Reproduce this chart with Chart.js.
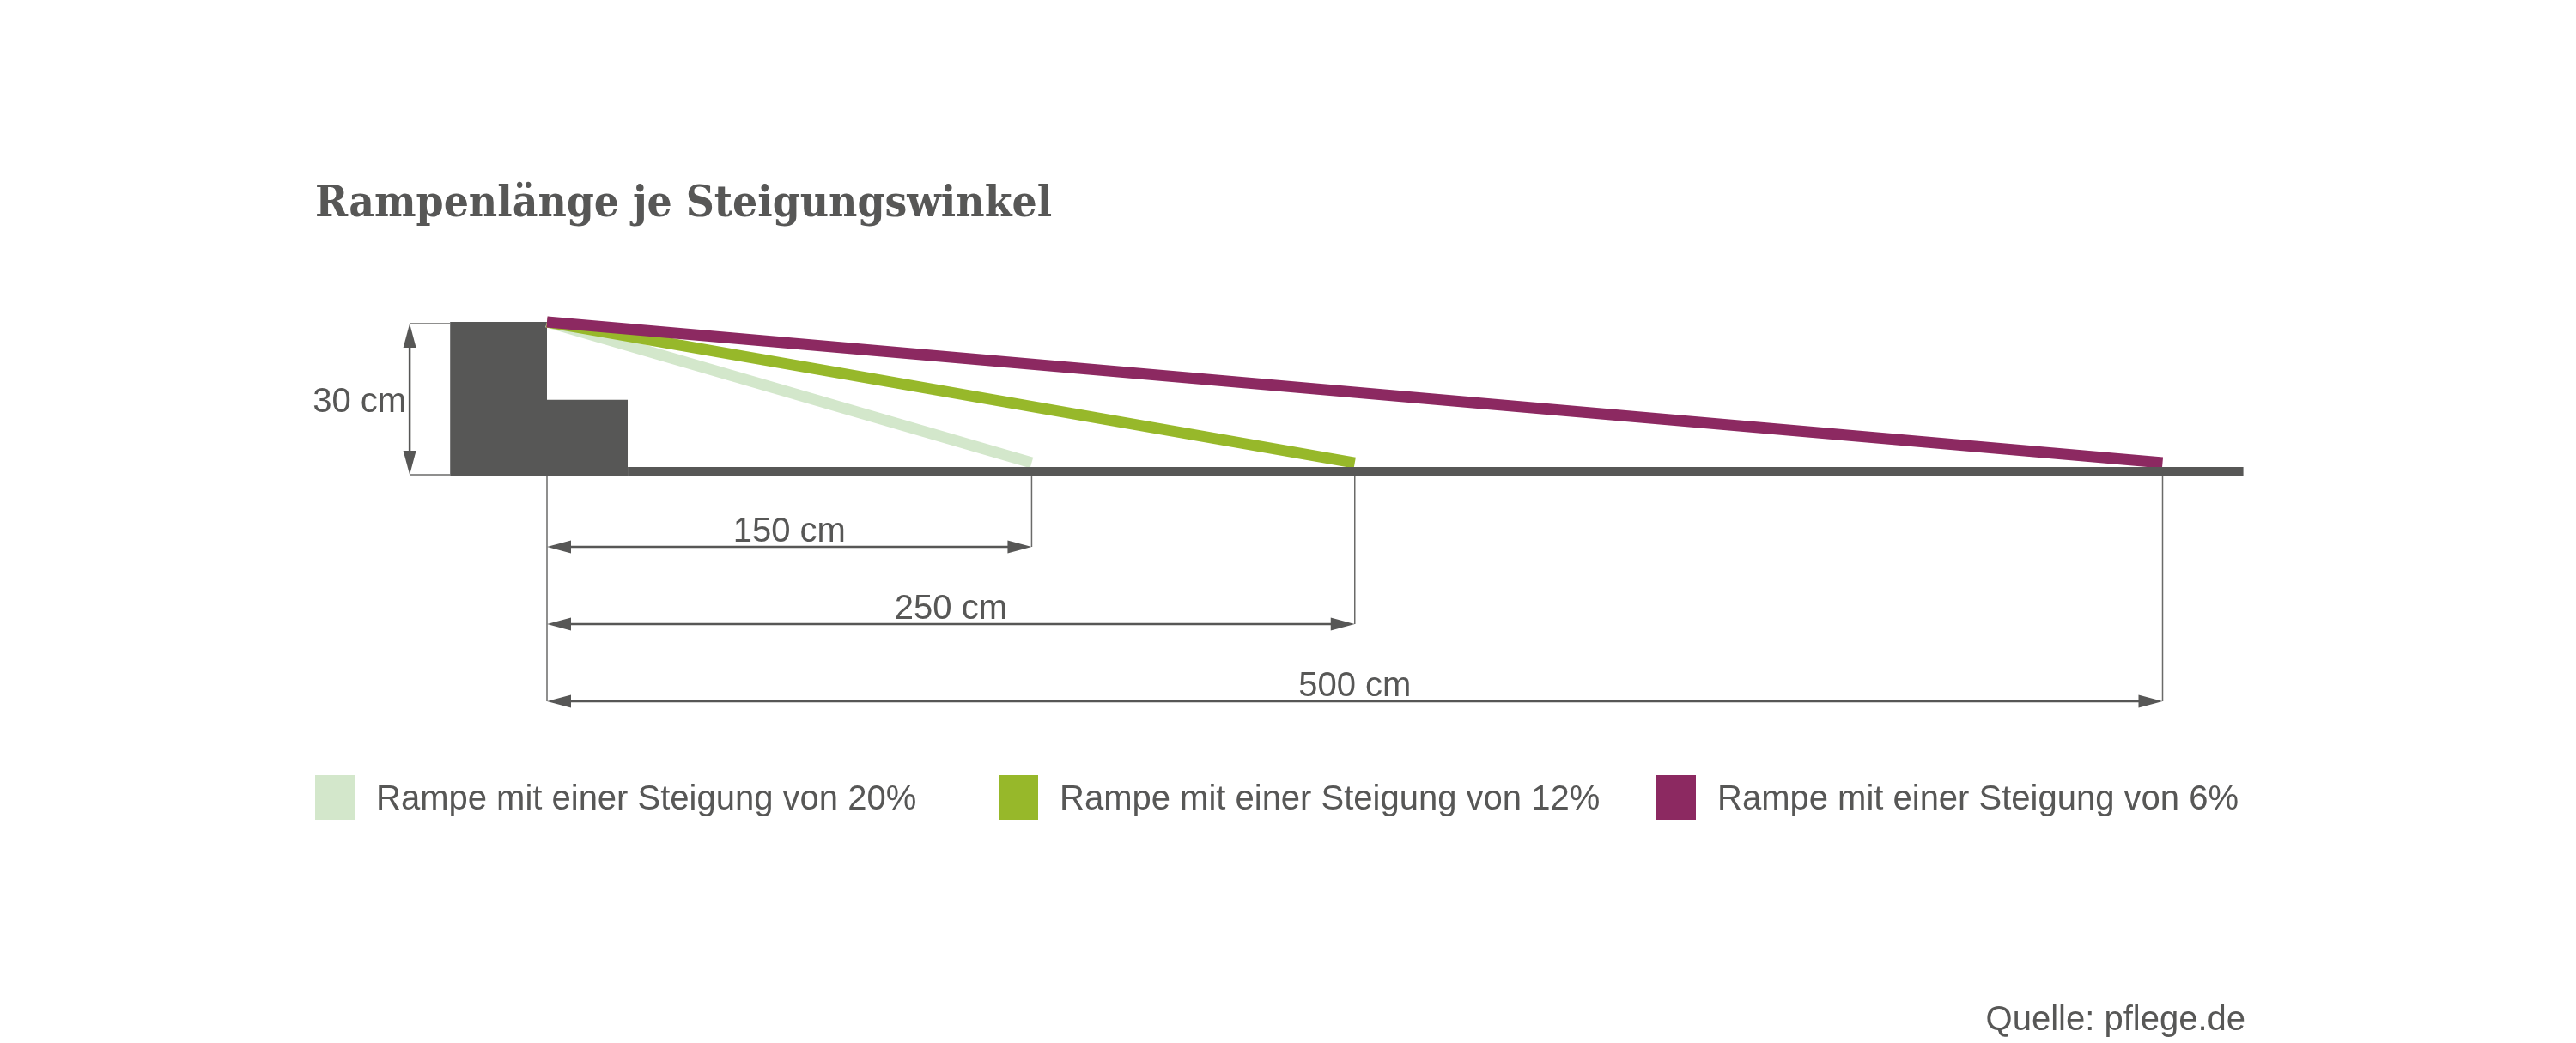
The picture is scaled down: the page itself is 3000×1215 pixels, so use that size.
<!DOCTYPE html>
<html lang="de">
<head>
<meta charset="utf-8">
<title>Rampenlänge je Steigungswinkel</title>
<script src="https://cdn.jsdelivr.net/npm/chart.js@4.4.0/dist/chart.umd.min.js"></script>
<style>
    html, body { margin: 0; padding: 0; background: #fff; }
    body {
        width: 3000px; height: 1215px; position: relative; overflow: hidden;
        font-family: "Liberation Sans", Arial, sans-serif; color: #575756;
    }
    #title {
        position: absolute; left: 367px; top: 209px; white-space: nowrap;
        font: bold 51px "DejaVu Serif Condensed", "DejaVu Serif", serif; line-height: 51px;
    }
    #chartBox { position: absolute; left: 0; top: 0; width: 3000px; height: 1215px; }
    .item { position: absolute; top: 903px; display: flex; align-items: center; white-space: nowrap; font-size: 40px; }
    .swatch { width: 46px; height: 52px; margin-right: 25px; }
    #source { position: absolute; right: 385px; top: 1163px; font-size: 40px; line-height: 46px; }
</style>
</head>
<body>
<div id="title">Rampenlänge je Steigungswinkel</div>
<div id="chartBox"><canvas id="rampChart"></canvas></div>
<div id="legend"></div>
<div id="source">Quelle: pflege.de</div>

<script>
// Daten (cm)
const RAMP_LABELS = [
    'Rampe mit einer Steigung von 20%',
    'Rampe mit einer Steigung von 12%',
    'Rampe mit einer Steigung von 6%'
];
const RAMP_LENGTHS = [150, 250, 500];
const RAMP_COLORS = ['#d3e7cb', '#97b82a', '#8c2961'];
const STEP_HEIGHT = 30;

// Stufe (Schema) und Boden
const BLOCK_X = [-30, 0, 0, 25];
const BLOCK_Y = [30, 30, 13.4, 13.4];
const GROUND_X = [25, 525];
const GROUND_Y = -1.92;

const GRAY = '#575756';
const THIN = '#6a6a69';
const LEGEND_LEFT = [367, 1163, 1929];

// Legende
const legend = document.getElementById('legend');
RAMP_LABELS.forEach((label, i) => {
    const item = document.createElement('div');
    item.className = 'item';
    item.style.left = LEGEND_LEFT[i] + 'px';
    item.innerHTML = `<span class="swatch" style="background:${RAMP_COLORS[i]}"></span><span>${label}</span>`;
    legend.appendChild(item);
});

function drawArrowHead(ctx, x, y, dx, dy) {
    // Pfeilspitze zeigt in Richtung (dx, dy)
    const len = 28, half = 7.5;
    const px = -dy, py = dx;
    ctx.beginPath();
    ctx.moveTo(x, y);
    ctx.lineTo(x - dx * len + px * half, y - dy * len + py * half);
    ctx.lineTo(x - dx * len - px * half, y - dy * len - py * half);
    ctx.closePath();
    ctx.fill();
}

function drawLine(ctx, x1, y1, x2, y2, w, color) {
    ctx.beginPath();
    ctx.lineWidth = w;
    ctx.strokeStyle = color;
    ctx.moveTo(x1, y1);
    ctx.lineTo(x2, y2);
    ctx.stroke();
}

// Bemaßung
const dimensionPlugin = {
    id: 'dimensions',
    afterDatasetsDraw(chart) {
        const { ctx, scales: { x, y } } = chart;
        const x0 = x.getPixelForValue(0);
        const groundBottom = y.getPixelForValue(GROUND_Y) + 5.5;
        ctx.save();
        ctx.fillStyle = GRAY;
        ctx.font = '40px "Liberation Sans", Arial, sans-serif';
        ctx.textAlign = 'center';
        ctx.textBaseline = 'alphabetic';

        let lastY = groundBottom;
        RAMP_LENGTHS.forEach((len, i) => {
            const xe = x.getPixelForValue(len);
            const yd = groundBottom + 82 + i * 90;
            drawLine(ctx, xe, groundBottom, xe, yd, 1.5, THIN);
            drawLine(ctx, x0 + 20, yd, xe - 20, yd, 2.5, GRAY);
            drawArrowHead(ctx, x0, yd, -1, 0);
            drawArrowHead(ctx, xe, yd, 1, 0);
            ctx.fillText(len + ' cm', (x0 + xe) / 2, yd - 6);
            lastY = yd;
        });
        drawLine(ctx, x0, groundBottom, x0, lastY, 1.5, THIN);

        // Höhe
        const blockLeft = x.getPixelForValue(BLOCK_X[0]);
        const xa = blockLeft - 47;
        const yTop = y.getPixelForValue(STEP_HEIGHT) + 2;
        const yBot = groundBottom - 2;
        drawLine(ctx, xa, yTop, blockLeft, yTop, 1.5, THIN);
        drawLine(ctx, xa, yBot, blockLeft, yBot, 1.5, THIN);
        drawLine(ctx, xa, yTop + 20, xa, yBot - 20, 2.5, GRAY);
        drawArrowHead(ctx, xa, yTop, 0, -1);
        drawArrowHead(ctx, xa, yBot, 0, 1);
        ctx.textAlign = 'right';
        ctx.fillText(STEP_HEIGHT + ' cm', xa - 4, (yTop + yBot) / 2 + 15);
        ctx.restore();
    }
};

const datasets = [];
// Rampen: 6% oben, 20% unten
RAMP_LENGTHS.forEach((len, i) => {
    datasets.push({
        label: RAMP_LABELS[i],
        data: [{ x: 0, y: STEP_HEIGHT }, { x: len, y: 0 }],
        borderColor: RAMP_COLORS[i],
        borderWidth: 13,
        borderCapStyle: 'butt',
        pointRadius: 0,
        fill: false,
        order: 3 - i
    });
});
datasets.push({
    label: 'Boden',
    data: GROUND_X.map(v => ({ x: v, y: GROUND_Y })),
    borderColor: GRAY,
    borderWidth: 11,
    borderCapStyle: 'butt',
    pointRadius: 0,
    fill: false,
    order: 0
});
datasets.push({
    label: 'Stufe',
    data: BLOCK_X.map((v, i) => ({ x: v, y: BLOCK_Y[i] })),
    borderWidth: 0,
    borderColor: GRAY,
    backgroundColor: GRAY,
    pointRadius: 0,
    fill: { value: GROUND_Y - 1.0 },
    order: 5
});

new Chart(document.getElementById('rampChart'), {
    type: 'line',
    data: { datasets: datasets },
    options: {
        responsive: true,
        maintainAspectRatio: false,
        animation: false,
        devicePixelRatio: 1,
        layout: { padding: { left: 448.85, right: 368.6, top: 347.7, bottom: 375.3 } },
        plugins: { legend: { display: false }, tooltip: { enabled: false } },
        scales: {
            x: { type: 'linear', display: false, min: -50, max: 530 },
            y: { type: 'linear', display: false, min: -55, max: 35 }
        }
    },
    plugins: [dimensionPlugin]
});
</script>
</body>
</html>
